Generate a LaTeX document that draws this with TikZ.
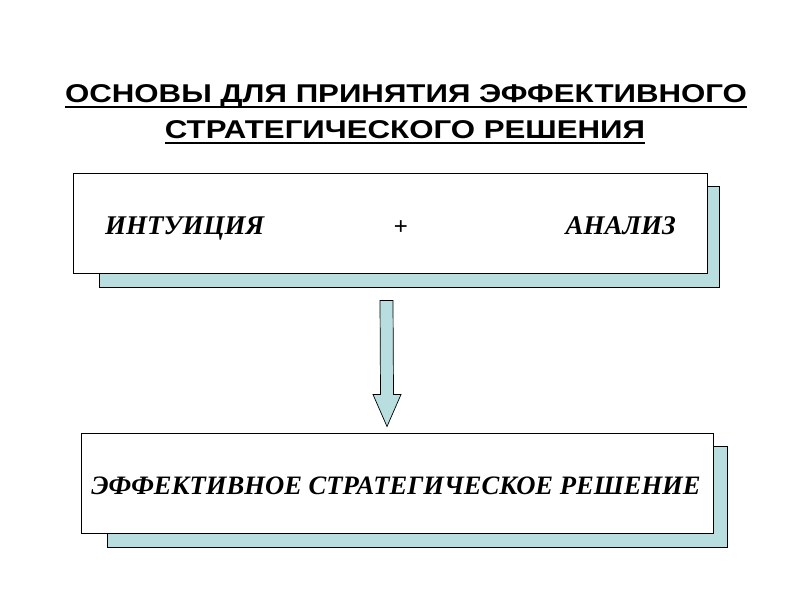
\documentclass[tikz,border=0pt]{standalone}
\usepackage{fontspec}
\setmainfont{Liberation Serif}
\newfontfamily\arialf{Liberation Sans}
\usetikzlibrary{calc,backgrounds}
\definecolor{tenj}{RGB}{184,222,224}
\newsavebox{\podbox}
\newcommand{\podch}[1]{\sbox\podbox{#1}\usebox\podbox\llap{\rule[-6pt]{\wd\podbox}{2pt}}}
\tikzset{
  ram/.style={draw,fill=white,line width=1pt,inner sep=0pt},
  ten/.style={draw,fill=tenj,line width=1pt},
  nadp/.style={font=\bfseries\itshape\fontsize{27}{32}\selectfont,inner sep=0pt},
  zag/.style={font=\arialf\bfseries\fontsize{25.7}{30}\selectfont,inner sep=0pt,
    xscale=1.215,transform shape},
}

\begin{document}
\begin{tikzpicture}[x=1pt,y=-1pt]
  \useasboundingbox (0,0) rectangle (800,600);
  % zagolovok
  \node[zag,anchor=base] (zag1) at (406,102) {\podch{ОСНОВЫ ДЛЯ ПРИНЯТИЯ ЭФФЕКТИВНОГО}};
  \node[zag,anchor=base] (zag2) at (405,138) {\podch{СТРАТЕГИЧЕСКОГО РЕШЕНИЯ}};
  % ramki
  \node[ram,minimum width=634,minimum height=100] (osn) at (390,223) {};
  \node[ram,minimum width=632,minimum height=100] (resh) at (397,483) {};
  \begin{scope}[on background layer]
    \draw[ten] ($(osn.north west)+(27,14)$) rectangle ($(osn.south east)+(12,14)$);
    \draw[ten] ($(resh.north west)+(27,14)$) rectangle ($(resh.south east)+(14,14)$);
  \end{scope}
  \node[nadp,anchor=base west] (intu) at (105,234) {ИНТУИЦИЯ};
  \node[font=\arialf\fontsize{24}{28}\selectfont,inner sep=0pt,anchor=base] (plus) at (401,234) {+};
  \node[nadp,font=\bfseries\itshape\fontsize{26.6}{32}\selectfont,anchor=base] (itog) at (396,494)
    {ЭФФЕКТИВНОЕ СТРАТЕГИЧЕСКОЕ РЕШЕНИЕ};
  \node[nadp,anchor=base east] (anal) at (676,234) {АНАЛИЗ};
  % strelka
  \coordinate (pverh) at ($(osn.south)+(-3.5,27)$);
  \coordinate (pniz) at ($(resh.north)+(-10,-6)$);
  \draw[ten,line width=0.7pt] ($(pverh)+(-6.5,0)$) -- ($(pverh)+(6.5,0)$)
    -- ($(pniz)+(6.5,-32)$) -- ($(pniz)+(14,-32)$) -- (pniz)
    -- ($(pniz)+(-14,-32)$) -- ($(pniz)+(-6.5,-32)$) -- cycle;
\end{tikzpicture}
\end{document}
